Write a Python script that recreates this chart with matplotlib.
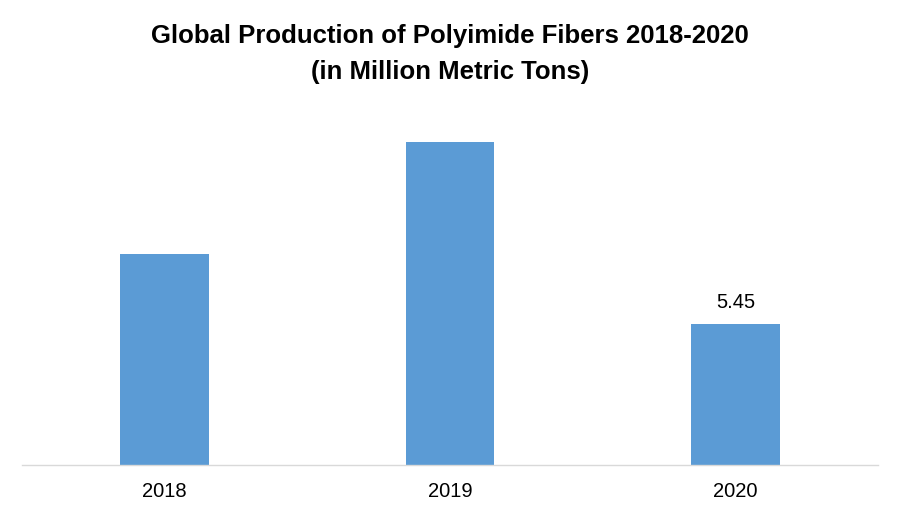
import matplotlib.pyplot as plt
import numpy as np

plt.rcParams['font.family'] = ['Liberation Sans', 'DejaVu Sans']

years = ['2018', '2019', '2020']
production = [8.15, 12.5, 5.45]
labelled = [False, False, True]

fig = plt.figure(figsize=(9, 5.25), dpi=100)
ax = fig.add_axes([22 / 900, 60 / 525, 856 / 900, 350 / 525])

x = np.arange(len(years))
ax.bar(x, production, width=0.31, color='#5B9BD5')
for xi, v, show in zip(x, production, labelled):
    if show:
        ax.text(xi, v + 0.45, f'{v:.2f}', ha='center', va='bottom', fontsize=14.5, color='#000000')

ax.set_xlim(-0.5, 2.5)
ax.set_ylim(0, 350 / 25.87)
ax.set_xticks(x)
ax.set_xticklabels(years, fontsize=14.5)
ax.tick_params(axis='x', length=0, pad=12)
ax.set_yticks([])
for side in ['top', 'right', 'left']:
    ax.spines[side].set_visible(False)
ax.spines['bottom'].set_color('#D9D9D9')
ax.spines['bottom'].set_linewidth(1)

fig.text(0.5, 1 - 54 / 525, 'Global Production of Polyimide Fibers 2018-2020\n(in Million Metric Tons)',
         ha='center', va='center', fontsize=18.5, fontweight='bold', linespacing=1.6)

fig.savefig('out.png', dpi=100)
